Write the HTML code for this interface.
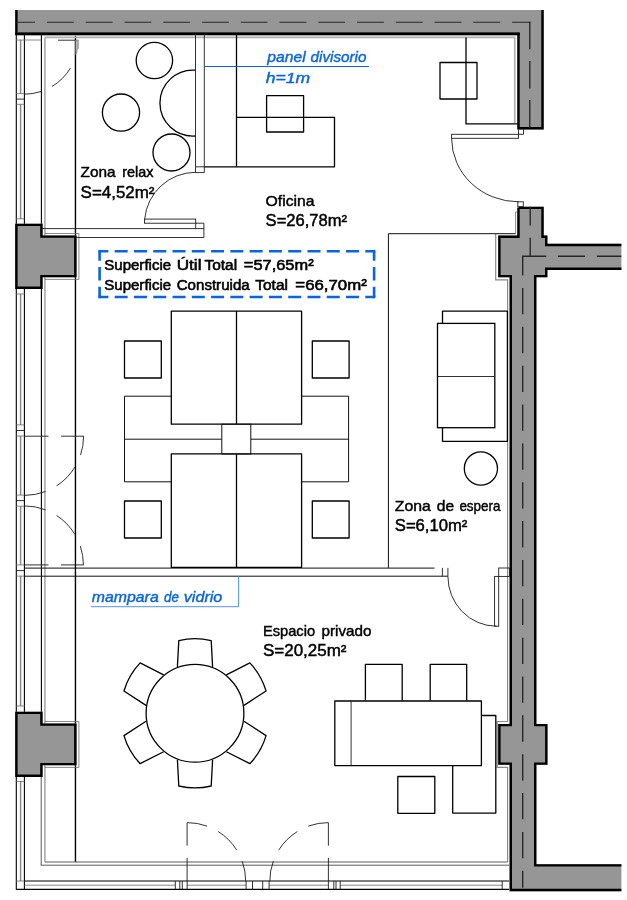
<!DOCTYPE html>
<html lang="es"><head><meta charset="utf-8"><title>Plano oficina</title>
<style>
html,body{margin:0;padding:0;background:#fff}
body{width:627px;height:900px;overflow:hidden}
svg{display:block;will-change:transform;font-family:"Liberation Sans",sans-serif}
.wf{fill:#969696;stroke:none}
.wk{fill:none;stroke:#000;stroke-width:2.4;stroke-linejoin:miter}
.cl{fill:none;stroke:#2a2a2a;stroke-width:1.1}
.clv{fill:none;stroke:#262626;stroke-width:1.35}
.k{fill:none;stroke:#000;stroke-width:1.1}
.fl{fill:#b4b4b4;stroke:#555;stroke-width:0.5}
.k13{fill:none;stroke:#000;stroke-width:1.4}
.f{fill:none;stroke:#000;stroke-width:1.3;stroke-linejoin:round}
.t{fill:none;stroke:#1c1c1c;stroke-width:0.9}
.fw{fill:#fff;stroke:#000;stroke-width:1.3}
.t2{fill:none;stroke:#111;stroke-width:1}
.g{fill:none;stroke:#6c6c6c;stroke-width:0.8}
.g1{fill:none;stroke:#5a5a5a;stroke-width:1}
.gr{fill:none;stroke:#8a8a8a;stroke-width:1.2}
.gl{fill:none;stroke:#8a8a8a;stroke-width:1.5}
.gf{fill:none;stroke:#b0b0b0;stroke-width:1.7}
.wk3{fill:none;stroke:#000;stroke-width:2.6}
.b1{fill:none;stroke:#0a64dc;stroke-width:1.2}
.b2{fill:none;stroke:#3d88e6;stroke-width:0.9}
.bd{fill:none;stroke:#0a64dc;stroke-width:2.6}
.bf{fill:#0a64dc;stroke:none}
.bt{fill:#0a64dc;stroke:#0a64dc;stroke-width:0.4;font-style:italic;font-size:15px}
.lb{fill:#000;font-size:15px;stroke:#000;stroke-width:0.45}
.ls{fill:#000;font-size:15.6px;stroke:#000;stroke-width:0.45}
.lm{fill:#000;font-size:15.5px;stroke:#000;stroke-width:0.6}
</style></head>
<body>
<svg width="627" height="900" viewBox="0 0 627 900">
<rect x="0" y="0" width="627" height="900" fill="#fff"/>
<g id="ventana-izq">
<line class="k" x1="16.3" y1="34" x2="16.3" y2="889.8"/>
<line class="k" x1="24.4" y1="34" x2="24.4" y2="889.8"/>
<line class="gl" x1="20.6" y1="40" x2="20.6" y2="93.6"/>
<line class="gl" x1="20.6" y1="104.5" x2="20.6" y2="218.8"/>
<line class="gl" x1="20.6" y1="294" x2="20.6" y2="424.9"/>
<line class="gl" x1="20.6" y1="436" x2="20.6" y2="495.1"/>
<line class="gl" x1="20.6" y1="506.2" x2="20.6" y2="564.9"/>
<line class="gl" x1="20.6" y1="576.1" x2="20.6" y2="706"/>
<line class="gl" x1="20.6" y1="781.5" x2="20.6" y2="881"/>
<line class="k" x1="41.4" y1="34" x2="41.4" y2="712"/>
<line class="g1" x1="41.2" y1="777" x2="41.2" y2="865.2"/>
<line class="gf" x1="44.9" y1="37.5" x2="44.9" y2="862"/>
<line class="k13" x1="75.45" y1="36" x2="75.45" y2="862"/>
<line class="g" x1="16.3" y1="40" x2="41.4" y2="40"/>
<line class="g" x1="16.3" y1="93.6" x2="24.4" y2="93.6"/>
<line class="t" x1="16.3" y1="99.1" x2="24.4" y2="99.1"/>
<line class="g" x1="16.3" y1="104.3" x2="24.4" y2="104.3"/>
<line class="g" x1="16.3" y1="424.9" x2="24.4" y2="424.9"/>
<line class="t" x1="16.3" y1="430.5" x2="24.4" y2="430.5"/>
<line class="g" x1="16.3" y1="436" x2="24.4" y2="436"/>
<line class="g" x1="16.3" y1="495.1" x2="24.4" y2="495.1"/>
<line class="t" x1="16.3" y1="500.6" x2="24.4" y2="500.6"/>
<line class="g" x1="16.3" y1="506.2" x2="24.4" y2="506.2"/>
<line class="g" x1="16.3" y1="564.9" x2="24.4" y2="564.9"/>
<line class="t" x1="16.3" y1="570.6" x2="24.4" y2="570.6"/>
<line class="g" x1="16.3" y1="576.1" x2="24.4" y2="576.1"/>
<line class="g" x1="16.3" y1="218.8" x2="24.4" y2="218.8"/>
<line class="g" x1="16.3" y1="294" x2="24.4" y2="294"/>
<line class="g" x1="16.3" y1="706" x2="24.4" y2="706"/>
<line class="g" x1="16.3" y1="781.5" x2="24.4" y2="781.5"/>
</g>
<g id="acabados">
<path class="gf" d="M44.8 37.4H514.75V123.2"/>
<path class="gr" d="M507.6 862V767.4H497.2V721.5H507.6V279.8H495.7V234"/>
<path class="g1" d="M44.9 862H507.6"/>
<path class="g1" d="M40.8 865.2H509"/>
<path class="g" d="M44.9 233.5H78.9V279.4H44.9"/>
<path class="g" d="M44.9 721.5H78.9V767.4H44.9"/>
</g>
<g id="ventana-inf">
<line class="k" x1="24.4" y1="881" x2="509" y2="881"/>
<line class="g" x1="24.4" y1="885.2" x2="175.3" y2="885.2"/>
<line class="g" x1="187.1" y1="885.2" x2="246.1" y2="885.2"/>
<line class="g" x1="269.1" y1="885.2" x2="328.4" y2="885.2"/>
<line class="g" x1="340.2" y1="885.2" x2="502.2" y2="885.2"/>
<line class="k" x1="16.3" y1="889.4" x2="509" y2="889.4"/>
<line class="t" x1="175.3" y1="881" x2="175.3" y2="889.4"/>
<line class="t" x1="179.8" y1="881" x2="179.8" y2="889.4"/>
<line class="t" x1="182.3" y1="881" x2="182.3" y2="889.4"/>
<line class="t" x1="246.1" y1="881" x2="246.1" y2="889.4"/>
<line class="t" x1="252.5" y1="881" x2="252.5" y2="889.4"/>
<line class="t" x1="262.7" y1="881" x2="262.7" y2="889.4"/>
<line class="t" x1="269.1" y1="881" x2="269.1" y2="889.4"/>
<line class="t" x1="333.8" y1="881" x2="333.8" y2="889.4"/>
<line class="t" x1="336" y1="881" x2="336" y2="889.4"/>
<line class="t" x1="340.2" y1="881" x2="340.2" y2="889.4"/>
<line class="t" x1="502.2" y1="881" x2="502.2" y2="889.4"/>
<line class="g" x1="16.3" y1="881" x2="24.4" y2="881"/>
</g>
<g id="mampara">
<line class="t2" x1="24.4" y1="568.1" x2="434.5" y2="568.1"/>
<line class="t2" x1="24.4" y1="576.2" x2="447.9" y2="576.2"/>
</g>
<g id="muros">
<path class="wf" d="M15.3 9.9H543.7V129.5H517.3V35.2H15.3Z"/>
<path class="wf" d="M517.3 206.7H543.7V235.6H547.4V243.8H621.4V269.9H547.4V277.3H536.4V723.9H547.5V764.8H536.4V864.2H621.4V891.2H509.6V764.8H498.2V723.9H509.6V277.3H498.2V235.6H517.3Z"/>
<path class="wf" d="M15.2 223.7H42.6V235.4H76.5V277.3H42.6V289H15.2Z"/>
<path class="wf" d="M15.2 711.7H42.6V723.4H76.5V765.3H42.6V777H15.2Z"/>
</g>
<g id="muros-linea">
<path class="wk" d="M16.4 9.9V33.8H518.5V128.3H542.5V9.9"/>
<line class="wk3" x1="15.3" y1="34.05" x2="519.7" y2="34.05"/>
<path class="wk" d="M518.5 207.9H542.5V236.8H546.2V245H621.4"/>
<path class="wk" d="M621.4 268.7H546.2V276.1H535.2V725.1H546.3V763.6H535.2V865.4H621.4"/>
<path class="wk" d="M621.4 890H510.8V763.6H499.4V725.1H510.8V276.1H499.4V236.8H518.5V207.9"/>
<path class="wk" d="M16.4 224.9H41.4V236.6H75.3V276.1H41.4V287.8H16.4Z"/>
<path class="wk" d="M16.4 712.9H41.4V724.6H75.3V764.1H41.4V775.8H16.4Z"/>
</g>
<g id="ejes">
<path class="cl" d="M16.4 22.2H530.4" stroke-dasharray="26.8 11.96" stroke-dashoffset="8.16"/>
<path class="clv" d="M529.8 21.7V128.3" stroke-dasharray="27.6 11.6"/>
<path class="clv" d="M530.2 206.7V256.9" stroke-dasharray="18.9 12.2 30"/>
<path class="clv" d="M522 256.3H621.4" stroke-dasharray="24.2 11.8 27 11.9 30"/>
<path class="clv" d="M522.7 256.9V887.8" stroke-dasharray="26.3 12.55" stroke-dashoffset="7.75"/>
</g>
<g id="mobiliario">
<circle class="f" cx="154.4" cy="60.5" r="18.2"/>
<circle class="f" cx="121" cy="112.6" r="18.6"/>
<circle class="f" cx="171.5" cy="152.5" r="18.5"/>
<path class="f" d="M195.5 70.2A33 33 0 1 0 195.5 136"/>
<path class="t" d="M195.5 34V172.6H204.3V34"/>
<path class="f" d="M236.5 34V166.8"/>
<path class="f" d="M204.3 166.8H334.5V117.3H236.5"/>
<rect class="f" x="266.6" y="95.7" width="37" height="36.3"/>
<rect class="f" x="440" y="62.5" width="37" height="36.5"/>
<path class="f" d="M466 37.5V123.9H517.6"/>
<path class="t2" d="M515.6 233.7H388.4V567.9"/>
<rect class="f" x="442.5" y="311.2" width="64.9" height="130.1"/>
<rect class="fw" x="437.5" y="323.4" width="57.3" height="104.3"/>
<line class="t" x1="437.4" y1="376.5" x2="494.6" y2="376.5"/>
<circle class="f" cx="480.9" cy="468.5" r="16.6"/>
<rect class="f" x="171.3" y="311.2" width="130.3" height="113"/>
<line class="f" x1="236.5" y1="311.2" x2="236.5" y2="424"/>
<rect class="f" x="171.3" y="453.8" width="130.3" height="113.5"/>
<line class="f" x1="236.5" y1="453.8" x2="236.5" y2="567.4"/>
<rect class="t2" x="221.8" y="424.2" width="29" height="29.8"/>
<path class="t2" d="M171.3 396.2H124.5V481.8H171.3"/>
<path class="t2" d="M301.6 396.2H348.6V481.8H301.6"/>
<line class="t2" x1="124.5" y1="439.2" x2="221.8" y2="439.2"/>
<line class="t2" x1="250.8" y1="439.2" x2="348.6" y2="439.2"/>
<rect class="f" x="124.5" y="341" width="36.8" height="37"/>
<rect class="f" x="312.3" y="341" width="36.8" height="37"/>
<rect class="f" x="124.5" y="501" width="36.8" height="37"/>
<rect class="f" x="312.3" y="501" width="36.8" height="37"/>
<rect class="f" x="334.8" y="701" width="146.6" height="64.6"/>
<line class="t" x1="351.1" y1="700.5" x2="351.1" y2="765.6"/>
<path class="f" d="M365.4 700.5V664.3H402.2V700.5"/>
<path class="f" d="M430.2 700.5V664.3H466.7V700.5"/>
<rect class="f" x="397.8" y="776.5" width="37" height="36.8"/>
<path class="f" d="M481.4 715.5H495.8V813.1H452.7V765.6"/>
</g>
<g id="mesa-redonda">
<circle class="f" cx="195" cy="713.3" r="48.9"/>
<path class="f" transform="translate(195 713.3) rotate(0)" d="M-17.6 46.4L-16.2 72.7Q0 76.6 16.2 72.7L17.6 46.4"/>
<path class="f" transform="translate(195 713.3) rotate(60)" d="M-17.6 46.4L-16.2 72.7Q0 76.6 16.2 72.7L17.6 46.4"/>
<path class="f" transform="translate(195 713.3) rotate(120)" d="M-17.6 46.4L-16.2 72.7Q0 76.6 16.2 72.7L17.6 46.4"/>
<path class="f" transform="translate(195 713.3) rotate(180)" d="M-17.6 46.4L-16.2 72.7Q0 76.6 16.2 72.7L17.6 46.4"/>
<path class="f" transform="translate(195 713.3) rotate(240)" d="M-17.6 46.4L-16.2 72.7Q0 76.6 16.2 72.7L17.6 46.4"/>
<path class="f" transform="translate(195 713.3) rotate(300)" d="M-17.6 46.4L-16.2 72.7Q0 76.6 16.2 72.7L17.6 46.4"/>
</g>
<g id="puertas">
<rect class="t" x="144.5" y="219.1" width="51.2" height="4.1"/>
<path class="t" d="M195.7 172.3A51.2 51.2 0 0 0 144.7 219.1"/>
<path class="t" d="M195.7 223.2H203.9V237.5H76"/>
<path class="t" d="M42 228.6H203.9"/>
<path class="t" d="M195.7 223.2V228.6"/>
<line class="t" x1="195.5" y1="166.8" x2="204.3" y2="166.8"/>
<rect class="t" x="451.6" y="134.3" width="66.9" height="4"/>
<path class="t" d="M451.6 138.3A67 63.5 0 0 0 518.6 201.8"/>
<path class="t" d="M518.5 129.5V134.3H523.5V129.5"/>
<rect class="t" x="517.8" y="201.8" width="5.5" height="4.9"/>
<path class="g" d="M515.6 234V212H517.5"/>
<rect class="t" x="494.6" y="576.4" width="4.1" height="49.8"/>
<path class="t" d="M447.9 576.3A48.6 49.9 0 0 0 496.5 626.2"/>
<rect class="t" x="498.7" y="568" width="10.7" height="8.4"/>
<line class="t" x1="442.4" y1="567.9" x2="442.4" y2="576.3"/>
<line class="t" x1="447.9" y1="567.9" x2="447.9" y2="576.3"/>
</g>
<g id="aperturas">
<line class="t" x1="58" y1="40.2" x2="75.6" y2="40.2"/>
<path class="t" d="M70.49 68.01A54 54 0 0 1 52.01 86.49"/>
<path class="t" d="M41.33 91.41A54 54 0 0 1 24.20 94.20"/>
<path class="fl" d="M75.5 40H78.3V48.5L77.2 49.5L76.6 53.5L75.5 54.5Z"/>
<line class="t" x1="24.4" y1="436.2" x2="48.5" y2="436.2"/>
<line class="t" x1="61" y1="436.2" x2="83.9" y2="436.2"/>
<path class="t" d="M83.60 436.20A59.2 59.2 0 0 1 80.54 454.98"/>
<path class="t" d="M75.14 466.69A59.2 59.2 0 0 1 56.64 485.85"/>
<path class="t" d="M45.62 491.47A59.2 59.2 0 0 1 24.40 495.40"/>
<line class="t" x1="24.4" y1="564.9" x2="48.5" y2="564.9"/>
<line class="t" x1="61" y1="564.9" x2="83.9" y2="564.9"/>
<path class="t" d="M83.40 564.90A59 59 0 0 0 80.35 546.18"/>
<path class="t" d="M74.97 534.51A59 59 0 0 0 56.53 515.42"/>
<path class="t" d="M45.54 509.82A59 59 0 0 0 24.40 505.90"/>
<line class="t" x1="187.1" y1="822.6" x2="187.1" y2="845.7"/>
<line class="t" x1="187.1" y1="857.8" x2="187.1" y2="889.4"/>
<path class="t" d="M187.10 822.60A58.6 58.6 0 0 1 207.14 826.13"/>
<path class="t" d="M218.15 831.50A58.6 58.6 0 0 1 236.80 850.15"/>
<path class="t" d="M242.17 861.16A58.6 58.6 0 0 1 245.70 881.20"/>
<line class="t" x1="328.4" y1="822.6" x2="328.4" y2="845.7"/>
<line class="t" x1="328.4" y1="857.8" x2="328.4" y2="889.4"/>
<path class="t" d="M328.40 822.60A58.6 58.6 0 0 0 308.36 826.13"/>
<path class="t" d="M297.35 831.50A58.6 58.6 0 0 0 278.70 850.15"/>
<path class="t" d="M273.33 861.16A58.6 58.6 0 0 0 269.80 881.20"/>
</g>
<g id="anotaciones">
<line class="b1" x1="204.3" y1="66.5" x2="368.9" y2="66.5"/>
<text class="bt" y="62"><tspan x="267.24" textLength="38.38" lengthAdjust="spacingAndGlyphs">panel</tspan> <tspan x="310.5" textLength="56" lengthAdjust="spacingAndGlyphs">divisorio</tspan></text>
<text class="bt" y="83.1"><tspan x="265.7" textLength="44.51" lengthAdjust="spacingAndGlyphs">h=1m</tspan></text>
<path class="b2" d="M90.8 606.7H238.6V576"/>
<text class="bt" y="602"><tspan x="91.78" textLength="66.93" lengthAdjust="spacingAndGlyphs">mampara</tspan> <tspan x="164" textLength="14.89" lengthAdjust="spacingAndGlyphs">de</tspan> <tspan x="183.8" textLength="38.51" lengthAdjust="spacingAndGlyphs">vidrio</tspan></text>
<line class="bd" x1="99.6" y1="251.2" x2="374.1" y2="251.2"  stroke-dasharray="13 6.28" stroke-dashoffset="4.2"/>
<line class="bd" x1="99.6" y1="297" x2="374.1" y2="297"  stroke-dasharray="13 6.28" stroke-dashoffset="4.2"/>
<line class="bd" x1="99.6" y1="251.2" x2="99.6" y2="297"  stroke-dasharray="13.3 6.4" stroke-dashoffset="3.8"/>
<line class="bd" x1="374.1" y1="251.2" x2="374.1" y2="297"  stroke-dasharray="13.3 6.4" stroke-dashoffset="3.8"/>
<rect class="bf" x="98.3" y="249.9" width="2.6" height="2.6"/>
<rect class="bf" x="372.8" y="249.9" width="2.6" height="2.6"/>
<rect class="bf" x="98.3" y="295.7" width="2.6" height="2.6"/>
<rect class="bf" x="372.8" y="295.7" width="2.6" height="2.6"/>
</g>
<g id="rotulos">
<text class="lb" y="177.4"><tspan x="80.61" textLength="35.02" lengthAdjust="spacingAndGlyphs">Zona</tspan> <tspan x="122.19" textLength="31.22" lengthAdjust="spacingAndGlyphs">relax</tspan></text>
<text class="ls" y="198.3"><tspan x="80.6" textLength="73.91" lengthAdjust="spacingAndGlyphs">S=4,52m²</tspan></text>
<text class="lb" y="205.7"><tspan x="265.6" textLength="49.02" lengthAdjust="spacingAndGlyphs">Oficina</tspan></text>
<text class="ls" y="225.6"><tspan x="265.6" textLength="81.41" lengthAdjust="spacingAndGlyphs">S=26,78m²</tspan></text>
<text class="lb" y="511.2"><tspan x="394.8" textLength="36.05" lengthAdjust="spacingAndGlyphs">Zona</tspan> <tspan x="436.77" textLength="17.35" lengthAdjust="spacingAndGlyphs">de</tspan> <tspan x="459.38" textLength="41.14" lengthAdjust="spacingAndGlyphs">espera</tspan></text>
<text class="ls" y="531.4"><tspan x="394.8" textLength="72.6" lengthAdjust="spacingAndGlyphs">S=6,10m²</tspan></text>
<text class="lb" y="635.5"><tspan x="263" textLength="52.1" lengthAdjust="spacingAndGlyphs">Espacio</tspan> <tspan x="321.6" textLength="49.9" lengthAdjust="spacingAndGlyphs">privado</tspan></text>
<text class="ls" y="655.9"><tspan x="263.01" textLength="83.4" lengthAdjust="spacingAndGlyphs">S=20,25m²</tspan></text>
<text class="lm" y="270.1"><tspan x="104.3" textLength="66.8" lengthAdjust="spacingAndGlyphs">Superficie</tspan> <tspan x="176.72" textLength="24.77" lengthAdjust="spacingAndGlyphs">Útil</tspan> <tspan x="204.45" textLength="32.66" lengthAdjust="spacingAndGlyphs">Total</tspan> <tspan x="243.89" textLength="69.74" lengthAdjust="spacingAndGlyphs">=57,65m²</tspan></text>
<text class="lm" y="290.3"><tspan x="104.3" textLength="66.8" lengthAdjust="spacingAndGlyphs">Superficie</tspan> <tspan x="176.69" textLength="73.01" lengthAdjust="spacingAndGlyphs">Construida</tspan> <tspan x="255.37" textLength="32.52" lengthAdjust="spacingAndGlyphs">Total</tspan> <tspan x="295.39" textLength="71.43" lengthAdjust="spacingAndGlyphs">=66,70m²</tspan></text>
</g>
</svg>
</body></html>
